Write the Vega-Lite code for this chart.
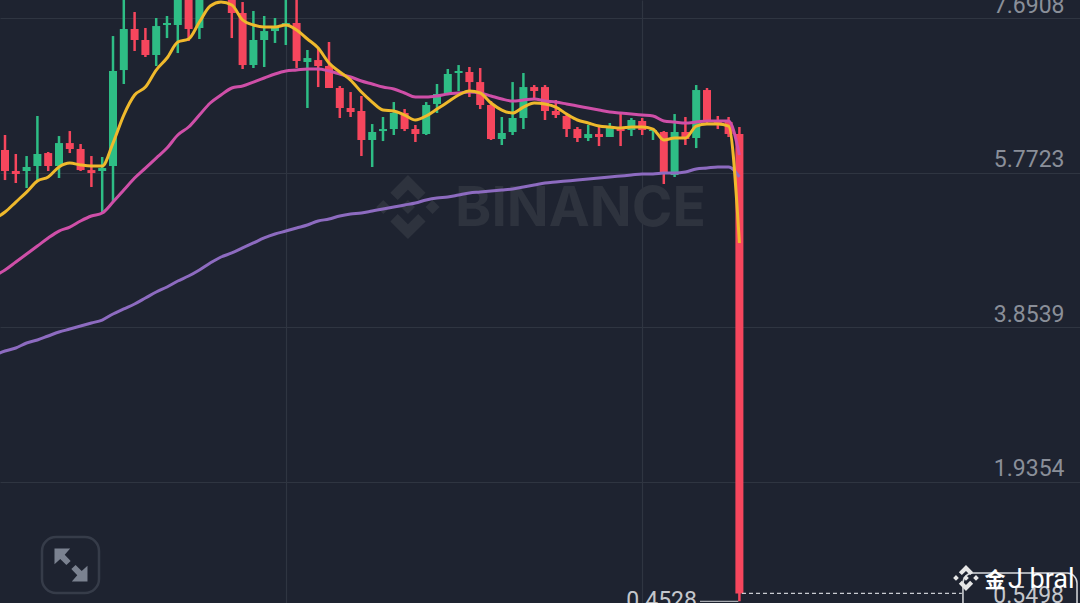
{"$schema":"https://vega.github.io/schema/vega-lite/v6.json","width":1080,"height":603,"padding":0,"autosize":{"type":"none"},"background":"#1e2330","config":{"view":{"stroke":null}},
"resolve":{"axis":{"y":"independent"}},
"datasets":{
"candles":[
{"i":0,"open":6.053,"high":6.239,"low":5.680,"close":5.792,"dir":"down"},
{"i":1,"open":5.792,"high":6.003,"low":5.643,"close":5.755,"dir":"down"},
{"i":2,"open":5.792,"high":5.978,"low":5.581,"close":5.842,"dir":"up"},
{"i":3,"open":5.854,"high":6.475,"low":5.680,"close":6.003,"dir":"up"},
{"i":4,"open":6.015,"high":6.028,"low":5.792,"close":5.854,"dir":"down"},
{"i":5,"open":5.854,"high":6.226,"low":5.705,"close":6.139,"dir":"up"},
{"i":6,"open":6.139,"high":6.288,"low":6.015,"close":6.065,"dir":"down"},
{"i":7,"open":6.065,"high":6.127,"low":5.792,"close":5.804,"dir":"down"},
{"i":8,"open":5.804,"high":5.978,"low":5.594,"close":5.767,"dir":"down"},
{"i":9,"open":5.792,"high":5.966,"low":5.283,"close":5.829,"dir":"up"},
{"i":10,"open":5.854,"high":7.467,"low":5.407,"close":7.033,"dir":"up"},
{"i":11,"open":7.045,"high":7.976,"low":6.872,"close":7.554,"dir":"up"},
{"i":12,"open":7.554,"high":7.765,"low":7.281,"close":7.418,"dir":"down"},
{"i":13,"open":7.418,"high":7.567,"low":7.207,"close":7.232,"dir":"down"},
{"i":14,"open":7.232,"high":7.691,"low":7.095,"close":7.591,"dir":"up"},
{"i":15,"open":7.604,"high":7.716,"low":7.442,"close":7.629,"dir":"up"},
{"i":16,"open":7.604,"high":7.976,"low":7.256,"close":7.976,"dir":"up"},
{"i":17,"open":8.038,"high":8.038,"low":7.405,"close":7.554,"dir":"down"},
{"i":18,"open":7.567,"high":8.038,"low":7.430,"close":7.976,"dir":"up"},
{"i":21,"open":7.976,"high":7.976,"low":7.442,"close":7.753,"dir":"down"},
{"i":22,"open":7.753,"high":7.889,"low":7.058,"close":7.107,"dir":"down"},
{"i":23,"open":7.107,"high":7.778,"low":7.070,"close":7.418,"dir":"up"},
{"i":24,"open":7.418,"high":7.716,"low":7.083,"close":7.529,"dir":"up"},
{"i":25,"open":7.529,"high":7.691,"low":7.381,"close":7.567,"dir":"up"},
{"i":26,"open":7.591,"high":7.976,"low":7.356,"close":7.629,"dir":"up"},
{"i":27,"open":7.629,"high":7.976,"low":7.070,"close":7.157,"dir":"down"},
{"i":28,"open":7.145,"high":7.294,"low":6.574,"close":7.194,"dir":"up"},
{"i":29,"open":7.169,"high":7.319,"low":6.834,"close":7.095,"dir":"down"},
{"i":30,"open":7.095,"high":7.393,"low":6.822,"close":6.822,"dir":"down"},
{"i":31,"open":6.822,"high":6.847,"low":6.450,"close":6.574,"dir":"down"},
{"i":32,"open":6.574,"high":6.772,"low":6.462,"close":6.524,"dir":"down"},
{"i":33,"open":6.537,"high":6.723,"low":5.978,"close":6.177,"dir":"down"},
{"i":34,"open":6.177,"high":6.375,"low":5.842,"close":6.276,"dir":"up"},
{"i":35,"open":6.288,"high":6.462,"low":6.164,"close":6.313,"dir":"up"},
{"i":36,"open":6.313,"high":6.648,"low":6.239,"close":6.512,"dir":"up"},
{"i":37,"open":6.512,"high":6.561,"low":6.288,"close":6.313,"dir":"down"},
{"i":38,"open":6.313,"high":6.363,"low":6.152,"close":6.251,"dir":"down"},
{"i":39,"open":6.251,"high":6.648,"low":6.239,"close":6.611,"dir":"up"},
{"i":40,"open":6.624,"high":6.872,"low":6.512,"close":6.748,"dir":"up"},
{"i":41,"open":6.748,"high":7.058,"low":6.748,"close":6.996,"dir":"up"},
{"i":42,"open":7.008,"high":7.107,"low":6.785,"close":7.033,"dir":"up"},
{"i":43,"open":7.021,"high":7.083,"low":6.710,"close":6.896,"dir":"down"},
{"i":44,"open":6.896,"high":7.070,"low":6.561,"close":6.611,"dir":"down"},
{"i":45,"open":6.611,"high":6.661,"low":6.177,"close":6.189,"dir":"down"},
{"i":46,"open":6.189,"high":6.462,"low":6.115,"close":6.264,"dir":"up"},
{"i":47,"open":6.276,"high":6.896,"low":6.239,"close":6.450,"dir":"up"},
{"i":48,"open":6.450,"high":7.008,"low":6.313,"close":6.834,"dir":"up"},
{"i":49,"open":6.834,"high":6.859,"low":6.673,"close":6.785,"dir":"down"},
{"i":50,"open":6.834,"high":6.859,"low":6.425,"close":6.537,"dir":"down"},
{"i":51,"open":6.537,"high":6.673,"low":6.450,"close":6.487,"dir":"down"},
{"i":52,"open":6.475,"high":6.487,"low":6.214,"close":6.313,"dir":"down"},
{"i":53,"open":6.313,"high":6.338,"low":6.152,"close":6.202,"dir":"down"},
{"i":54,"open":6.202,"high":6.363,"low":6.164,"close":6.251,"dir":"up"},
{"i":55,"open":6.251,"high":6.350,"low":6.102,"close":6.214,"dir":"down"},
{"i":56,"open":6.214,"high":6.388,"low":6.214,"close":6.338,"dir":"up"},
{"i":57,"open":6.338,"high":6.524,"low":6.102,"close":6.288,"dir":"down"},
{"i":58,"open":6.301,"high":6.450,"low":6.226,"close":6.425,"dir":"up"},
{"i":59,"open":6.413,"high":6.450,"low":6.239,"close":6.301,"dir":"down"},
{"i":60,"open":6.288,"high":6.326,"low":6.177,"close":6.301,"dir":"up"},
{"i":61,"open":6.276,"high":6.288,"low":5.631,"close":5.755,"dir":"down"},
{"i":62,"open":5.742,"high":6.499,"low":5.718,"close":6.276,"dir":"up"},
{"i":63,"open":6.276,"high":6.462,"low":6.115,"close":6.189,"dir":"down"},
{"i":64,"open":6.202,"high":6.859,"low":6.077,"close":6.797,"dir":"up"},
{"i":65,"open":6.797,"high":6.822,"low":6.363,"close":6.413,"dir":"down"},
{"i":66,"open":6.400,"high":6.475,"low":6.313,"close":6.363,"dir":"down"},
{"i":67,"open":6.400,"high":6.462,"low":6.214,"close":6.251,"dir":"down"},
{"i":68,"open":6.251,"high":6.338,"low":0.4528,"close":0.5498,"dir":"down"}
],
"ma":[
{"i":-1,"ma7":5.196,"ma25":4.489,"ma99":3.509},
{"i":0,"ma7":5.283,"ma25":4.564,"ma99":3.558},
{"i":1,"ma7":5.407,"ma25":4.663,"ma99":3.596},
{"i":2,"ma7":5.531,"ma25":4.762,"ma99":3.658},
{"i":3,"ma7":5.668,"ma25":4.861,"ma99":3.695},
{"i":4,"ma7":5.718,"ma25":4.961,"ma99":3.745},
{"i":5,"ma7":5.842,"ma25":5.047,"ma99":3.794},
{"i":6,"ma7":5.891,"ma25":5.097,"ma99":3.831},
{"i":7,"ma7":5.867,"ma25":5.172,"ma99":3.869},
{"i":8,"ma7":5.854,"ma25":5.234,"ma99":3.906},
{"i":9,"ma7":5.854,"ma25":5.271,"ma99":3.943},
{"i":10,"ma7":6.139,"ma25":5.407,"ma99":4.018},
{"i":11,"ma7":6.487,"ma25":5.556,"ma99":4.080},
{"i":12,"ma7":6.735,"ma25":5.705,"ma99":4.142},
{"i":13,"ma7":6.834,"ma25":5.829,"ma99":4.216},
{"i":14,"ma7":7.045,"ma25":5.953,"ma99":4.291},
{"i":15,"ma7":7.194,"ma25":6.077,"ma99":4.353},
{"i":16,"ma7":7.393,"ma25":6.239,"ma99":4.427},
{"i":17,"ma7":7.430,"ma25":6.338,"ma99":4.489},
{"i":18,"ma7":7.641,"ma25":6.487,"ma99":4.564},
{"i":19,"ma7":7.840,"ma25":6.636,"ma99":4.650},
{"i":20,"ma7":7.889,"ma25":6.735,"ma99":4.725},
{"i":21,"ma7":7.852,"ma25":6.822,"ma99":4.775},
{"i":22,"ma7":7.666,"ma25":6.847,"ma99":4.837},
{"i":23,"ma7":7.604,"ma25":6.896,"ma99":4.899},
{"i":24,"ma7":7.579,"ma25":6.946,"ma99":4.961},
{"i":25,"ma7":7.579,"ma25":6.996,"ma99":5.010},
{"i":26,"ma7":7.604,"ma25":7.033,"ma99":5.047},
{"i":27,"ma7":7.542,"ma25":7.045,"ma99":5.085},
{"i":28,"ma7":7.430,"ma25":7.058,"ma99":5.122},
{"i":29,"ma7":7.318,"ma25":7.058,"ma99":5.172},
{"i":30,"ma7":7.132,"ma25":7.033,"ma99":5.196},
{"i":31,"ma7":7.021,"ma25":6.996,"ma99":5.234},
{"i":32,"ma7":6.921,"ma25":6.959,"ma99":5.258},
{"i":33,"ma7":6.772,"ma25":6.909,"ma99":5.271},
{"i":34,"ma7":6.648,"ma25":6.872,"ma99":5.296},
{"i":35,"ma7":6.549,"ma25":6.834,"ma99":5.321},
{"i":36,"ma7":6.537,"ma25":6.810,"ma99":5.345},
{"i":37,"ma7":6.487,"ma25":6.760,"ma99":5.370},
{"i":38,"ma7":6.425,"ma25":6.710,"ma99":5.395},
{"i":39,"ma7":6.475,"ma25":6.710,"ma99":5.432},
{"i":40,"ma7":6.561,"ma25":6.723,"ma99":5.457},
{"i":41,"ma7":6.648,"ma25":6.748,"ma99":5.469},
{"i":42,"ma7":6.735,"ma25":6.760,"ma99":5.494},
{"i":43,"ma7":6.785,"ma25":6.772,"ma99":5.519},
{"i":44,"ma7":6.760,"ma25":6.760,"ma99":5.531},
{"i":45,"ma7":6.636,"ma25":6.723,"ma99":5.544},
{"i":46,"ma7":6.549,"ma25":6.686,"ma99":5.556},
{"i":47,"ma7":6.512,"ma25":6.661,"ma99":5.569},
{"i":48,"ma7":6.586,"ma25":6.673,"ma99":5.594},
{"i":49,"ma7":6.636,"ma25":6.686,"ma99":5.618},
{"i":50,"ma7":6.624,"ma25":6.661,"ma99":5.643},
{"i":51,"ma7":6.586,"ma25":6.648,"ma99":5.656},
{"i":52,"ma7":6.499,"ma25":6.624,"ma99":5.668},
{"i":53,"ma7":6.425,"ma25":6.599,"ma99":5.680},
{"i":54,"ma7":6.388,"ma25":6.574,"ma99":5.693},
{"i":55,"ma7":6.350,"ma25":6.549,"ma99":5.705},
{"i":56,"ma7":6.338,"ma25":6.524,"ma99":5.718},
{"i":57,"ma7":6.326,"ma25":6.512,"ma99":5.730},
{"i":58,"ma7":6.338,"ma25":6.499,"ma99":5.742},
{"i":59,"ma7":6.338,"ma25":6.487,"ma99":5.755},
{"i":60,"ma7":6.313,"ma25":6.475,"ma99":5.755},
{"i":61,"ma7":6.177,"ma25":6.413,"ma99":5.767},
{"i":62,"ma7":6.202,"ma25":6.400,"ma99":5.767},
{"i":63,"ma7":6.202,"ma25":6.388,"ma99":5.780},
{"i":64,"ma7":6.350,"ma25":6.400,"ma99":5.817},
{"i":65,"ma7":6.375,"ma25":6.413,"ma99":5.829},
{"i":66,"ma7":6.375,"ma25":6.413,"ma99":5.842},
{"i":67,"ma7":6.350,"ma25":6.413,"ma99":5.842},
{"i":68,"ma7":4.899,"ma25":5.991,"ma99":5.718}
]},
"encoding":{"x":{"field":"i","type":"quantitative","scale":{"domain":[-0.463,99.537],"nice":false,"zero":false,"padding":0},"axis":{"values":[26,59],"grid":true,"gridColor":"#2f3541","gridWidth":1.2,"labels":false,"ticks":false,"domain":false,"title":null}}},
"layer":[
{"data":{"values":[{"i":-0.463,"price":5.7723}]},"mark":{"type":"point","opacity":0},"encoding":{"y":{"field":"price","type":"quantitative","scale":{"domain":[0.4315,7.9142],"nice":false,"zero":false,"padding":0},"axis":{"orient":"right","values":[7.6908,5.7723,3.8539,1.9354],"format":".4f","grid":true,"gridColor":"#2f3541","gridWidth":1.2,"domain":false,"ticks":false,"title":null,"labelAlign":"right","labelBaseline":"middle","labelPadding":-16,"labelOffset":-13,"labelFont":"Roboto","labelFontSize":23,"labelColor":"#8a8f99","labelOverlap":false,"labelFlush":false,"labelBound":false}}}},
{"data":{"values":[{"i":41.67,"price":5.11,"label":"BINANCE"}]},"mark":{"type":"text","font":"Inter","fontWeight":700,"fontSize":55,"align":"left","baseline":"alphabetic","color":"#2e333e"},"encoding":{"y":{"field":"price","type":"quantitative","scale":{"domain":[0.4315,7.9142],"nice":false,"zero":false,"padding":0},"axis":null},"text":{"field":"label"}}},
{"data":{"values":[{"i":37.31,"price":5.345}]},"mark":{"type":"point","filled":true,"opacity":1,"color":"#2e333e","size":4096,"shape":"M0,-1L0.55,-0.45L0.32,-0.22L0,-0.54L-0.32,-0.22L-0.55,-0.45Z M0,1L0.55,0.45L0.32,0.22L0,0.54L-0.32,0.22L-0.55,0.45Z M0,-0.22L0.22,0L0,0.22L-0.22,0Z M-0.77,-0.22L-0.55,0L-0.77,0.22L-0.99,0Z M0.77,-0.22L0.99,0L0.77,0.22L0.55,0Z"},"encoding":{"y":{"field":"price","type":"quantitative","scale":{"domain":[0.4315,7.9142],"nice":false,"zero":false,"padding":0},"axis":null}}},
{"data":{"name":"candles"},"mark":{"type":"rule","strokeWidth":2.5,"clip":true},"encoding":{"y":{"field":"high","type":"quantitative","scale":{"domain":[0.4315,7.9142],"nice":false,"zero":false,"padding":0},"axis":null},"y2":{"field":"low"},"color":{"field":"dir","type":"nominal","scale":{"domain":["up","down"],"range":["#2ebd85","#f6465d"]},"legend":null}}},
{"data":{"name":"candles"},"mark":{"type":"bar","size":8,"clip":true},"encoding":{"y":{"field":"open","type":"quantitative","scale":{"domain":[0.4315,7.9142],"nice":false,"zero":false,"padding":0},"axis":null},"y2":{"field":"close"},"color":{"field":"dir","type":"nominal","scale":{"domain":["up","down"],"range":["#2ebd85","#f6465d"]},"legend":null}}},
{"data":{"name":"ma"},"mark":{"type":"line","color":"#8d6bc0","strokeWidth":3,"interpolate":"monotone","clip":true},"encoding":{"y":{"field":"ma99","type":"quantitative","scale":{"domain":[0.4315,7.9142],"nice":false,"zero":false,"padding":0},"axis":null}}},
{"data":{"name":"ma"},"mark":{"type":"line","color":"#cf4fa8","strokeWidth":3,"interpolate":"monotone","clip":true},"encoding":{"y":{"field":"ma25","type":"quantitative","scale":{"domain":[0.4315,7.9142],"nice":false,"zero":false,"padding":0},"axis":null}}},
{"data":{"name":"ma"},"mark":{"type":"line","color":"#efb92c","strokeWidth":3,"interpolate":"monotone","clip":true},"encoding":{"y":{"field":"ma7","type":"quantitative","scale":{"domain":[0.4315,7.9142],"nice":false,"zero":false,"padding":0},"axis":null}}},
{"data":{"values":[{"i":68.24,"x2":88.6,"price":0.5498}]},"mark":{"type":"rule","color":"#c9ccd1","strokeWidth":1.2,"strokeDash":[4,3]},"encoding":{"x2":{"field":"x2"},"y":{"field":"price","type":"quantitative","scale":{"domain":[0.4315,7.9142],"nice":false,"zero":false,"padding":0},"axis":null}}},
{"data":{"values":[{"i":64.35,"x2":67.9,"price":0.4528}]},"mark":{"type":"rule","color":"#a8abb1","strokeWidth":1.2},"encoding":{"x2":{"field":"x2"},"y":{"field":"price","type":"quantitative","scale":{"domain":[0.4315,7.9142],"nice":false,"zero":false,"padding":0},"axis":null}}},
{"data":{"values":[{"i":88.7,"x2":99.26,"price":0.804,"p2":0.158}]},"mark":{"type":"rect","fillOpacity":0,"stroke":"#d8dadd","strokeWidth":1.5,"cornerRadius":10},"encoding":{"x2":{"field":"x2"},"y":{"field":"price","type":"quantitative","scale":{"domain":[0.4315,7.9142],"nice":false,"zero":false,"padding":0},"axis":null},"y2":{"field":"p2"}}},
{"data":{"values":[{"i":3.426,"x2":8.704,"price":1.25,"p2":0.556}]},"mark":{"type":"rect","fillOpacity":0,"stroke":"#363c49","strokeWidth":2.5,"cornerRadius":14},"encoding":{"x2":{"field":"x2"},"y":{"field":"price","type":"quantitative","scale":{"domain":[0.4315,7.9142],"nice":false,"zero":false,"padding":0},"axis":null},"y2":{"field":"p2"}}},
{"data":{"values":[{"i":6.11,"price":0.903}]},"mark":{"type":"point","filled":true,"opacity":1,"color":"#7b8290","size":1089,"shape":"M-1,-1L-0.05,-1L-0.38,-0.62L-0.02,-0.24L-0.28,0L-0.65,-0.36L-1,-0.05Z M1,1L0.05,1L0.38,0.62L0.02,0.24L0.28,0L0.65,0.36L1,0.05Z"},"encoding":{"y":{"field":"price","type":"quantitative","scale":{"domain":[0.4315,7.9142],"nice":false,"zero":false,"padding":0},"axis":null}}},
{"data":{"values":[{"i":88.98,"price":0.742}]},"mark":{"type":"point","filled":true,"opacity":1,"color":"#e6e6e6","size":676,"shape":"M0,-1L0.55,-0.45L0.32,-0.22L0,-0.54L-0.32,-0.22L-0.55,-0.45Z M0,1L0.55,0.45L0.32,0.22L0,0.54L-0.32,0.22L-0.55,0.45Z M0,-0.22L0.22,0L0,0.22L-0.22,0Z M-0.77,-0.22L-0.55,0L-0.77,0.22L-0.99,0Z M0.77,-0.22L0.99,0L0.77,0.22L0.55,0Z"},"encoding":{"y":{"field":"price","type":"quantitative","scale":{"domain":[0.4315,7.9142],"nice":false,"zero":false,"padding":0},"axis":null}}},
{"data":{"values":[{"i":98.06,"price":0.431,"label":"0.5498"}]},"mark":{"type":"text","font":"Roboto","fontSize":23,"align":"right","baseline":"alphabetic","color":"#c4c7cc"},"encoding":{"y":{"field":"price","type":"quantitative","scale":{"domain":[0.4315,7.9142],"nice":false,"zero":false,"padding":0},"axis":null},"text":{"field":"label"}}},
{"data":{"values":[{"i":64.07,"price":0.369,"label":"0.4528"}]},"mark":{"type":"text","font":"Roboto","fontSize":23,"align":"right","baseline":"alphabetic","color":"#c4c7cc"},"encoding":{"y":{"field":"price","type":"quantitative","scale":{"domain":[0.4315,7.9142],"nice":false,"zero":false,"padding":0},"axis":null},"text":{"field":"label"}}},
{"data":{"values":[{"i":91.67,"price":0.704,"label":"金"}]},"mark":{"type":"text","font":"Noto Sans CJK SC","fontWeight":700,"fontSize":21,"align":"center","baseline":"middle","color":"#ffffff"},"encoding":{"y":{"field":"price","type":"quantitative","scale":{"domain":[0.4315,7.9142],"nice":false,"zero":false,"padding":0},"axis":null},"text":{"field":"label"}}},
{"data":{"values":[{"i":92.87,"price":0.618,"label":"J bral"}]},"mark":{"type":"text","font":"Roboto","fontSize":27,"align":"left","baseline":"alphabetic","color":"#ffffff"},"encoding":{"y":{"field":"price","type":"quantitative","scale":{"domain":[0.4315,7.9142],"nice":false,"zero":false,"padding":0},"axis":null},"text":{"field":"label"}}}
]}
